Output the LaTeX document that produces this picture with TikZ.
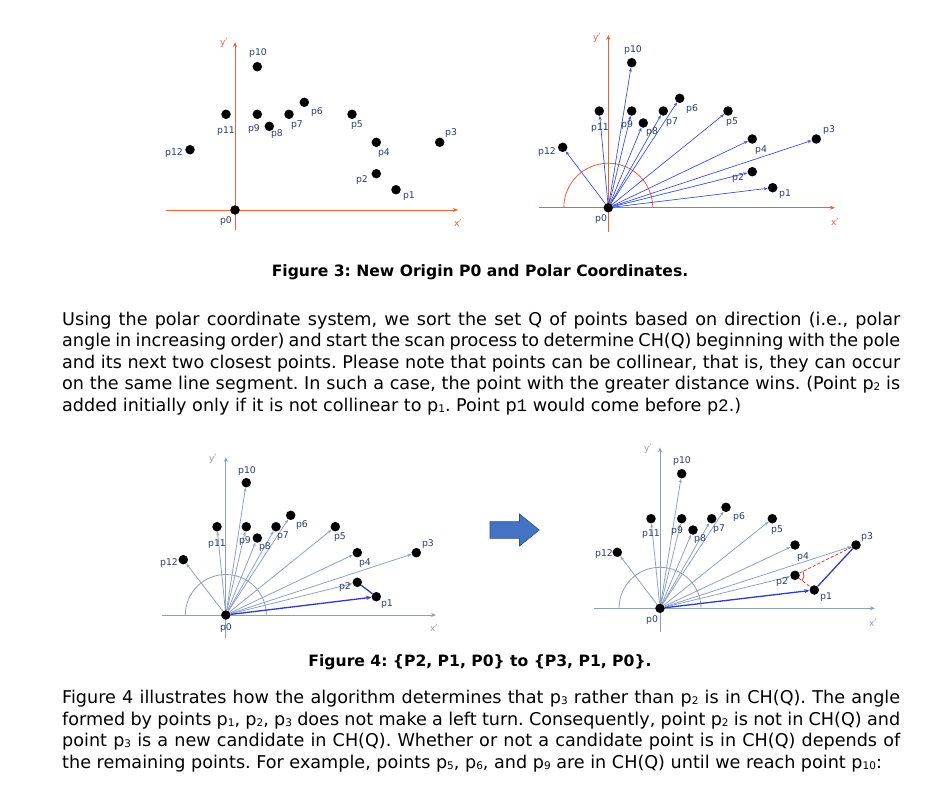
\documentclass[tikz,border=0pt]{standalone}
\usepackage{fontspec}
\setmainfont{DejaVu Sans}
\newfontfamily\lblfont{DejaVu Sans}
\newfontfamily\monofnt{Liberation Mono}
\usetikzlibrary{arrows.meta,calc}
\definecolor{axred}{HTML}{E8603C}
\definecolor{vecblue}{HTML}{3F51D8}
\definecolor{axgrey}{HTML}{8EA0B8}
\definecolor{vecgrey}{HTML}{8FA2C2}
\definecolor{boldblue}{HTML}{2E3BC8}
\definecolor{lblnavy}{HTML}{2E3D6E}
\definecolor{arrfill}{HTML}{4472C4}
\definecolor{arrdraw}{HTML}{2F528F}
\definecolor{dashred}{HTML}{E03030}
\newcommand\psub[1]{\raisebox{-1.2pt}{\fontsize{10.5}{10}\selectfont #1}}
\frenchspacing
\tikzset{
  dot/.style={circle, fill=black, inner sep=0pt, minimum size=9.5pt},
  lbl/.style={font=\lblfont\fontsize{9.3}{9}\selectfont, text=lblnavy, inner sep=0pt},
  axA/.style={draw=axred, line width=0.9pt, -{Stealth[length=5pt,width=4pt]}},
  axC/.style={draw=axgrey, line width=0.9pt, -{Stealth[length=5pt,width=4pt]}},
  axlblA/.style={font=\lblfont\fontsize{9}{9}\selectfont, text=axred, inner sep=0pt},
  axlblC/.style={font=\lblfont\fontsize{9}{9}\selectfont, text=axgrey, inner sep=0pt},
  vecB/.style={draw=vecblue, line width=0.7pt, -{Stealth[length=4pt,width=3pt]}},
  vecC/.style={draw=vecgrey, line width=0.8pt, -{Stealth[length=4pt,width=3pt]}},
  vecbold/.style={draw=boldblue, line width=1.3pt, -{Stealth[length=5pt,width=4pt]}},
  segbold/.style={draw=boldblue, line width=1.3pt},
  reddash/.style={draw=dashred, line width=0.8pt, densely dashed},
  bigarr/.style={draw=arrdraw, fill=arrfill, line width=0.6pt, line join=miter},
  txt/.style={anchor=base west, inner sep=0pt, font=\fontsize{17.6}{21.6}\selectfont},
  captxt/.style={anchor=base, inner sep=0pt, font=\bfseries\fontsize{15.6}{18}\selectfont},
}
\begin{document}
\begin{tikzpicture}[x=1pt, y=-1pt]
\useasboundingbox (0,0) rectangle (940,804);
\fill[white] (0,0) rectangle (940,804);

% ---------------- Figure A ----------------
\coordinate (aXL) at (166,210); \coordinate (aXR) at (458,210);
\coordinate (aYB) at (235,230); \coordinate (aYT) at (235,42);
\draw[axA] (aXL) -- (aXR);
\draw[axA] (aYB) -- (aYT);
\foreach \n/\x/\y in {0/235/210,1/396/189.7,2/376.3/173.7,3/439.7/142.3,4/376.3/142.3,5/352/114.3,6/304.3/102.3,7/289/114.3,8/269.3/126.3,9/257.3/114.3,10/257.3/66.7,11/226/114.3,12/190/149.7}
  \node[dot] (a\n) at (\x,\y) {};
\foreach \n/\x/\y in {0/226/221,1/409/196,2/362/180,3/451/133,4/384/153,5/357/125,6/317/112,7/297/125,8/277/134,9/254/129,10/258/53,11/226/131,12/174/153}
  \node[lbl] (la\n) at (\x,\y) {p\n};
\node[axlblA] (aylbl) at (224,43) {y\kern-0.5pt$'$};
\node[axlblA] (axlbl) at (458,223) {x\kern-0.5pt$'$};

% ---------------- Figure B ----------------
\coordinate (bXL) at (539,207.7); \coordinate (bXR) at (835,207.7);
\coordinate (bYB) at (608.3,232); \coordinate (bYT) at (608.3,35);
\draw[axA] (bXL) -- (bXR);
\draw[axA] (bYB) -- (bYT);
\foreach \n/\x/\y in {0/608.3/207.7,1/772.7/187.7,2/752.3/171.7,3/816.3/139,4/752.3/139,5/728/111,6/679.7/98.3,7/663.3/111,8/643.3/123,9/631.7/111,10/631.7/62.7,11/599.3/111,12/562.7/147.3}
  \node[dot] (b\n) at (\x,\y) {};
\draw[axred, line width=0.8pt] ($(b0)+(44.5,0)$) arc[start angle=0, end angle=-180, radius=44.5];
\foreach \n in {1,...,12} \draw[vecB] (b0) -- (b\n);
\foreach \n/\x/\y in {0/601/219,1/785/194,2/738/178,3/829/130,4/761/150,5/732/122,6/692/109,7/672/122,8/652/132,9/627/125,10/633/50,11/600/128,12/547/152}
  \node[lbl] (lb\n) at (\x,\y) {p\n};
\node[axlblA] (bylbl) at (597,38) {y\kern-0.5pt$'$};
\node[axlblA] (bxlbl) at (835,222) {x\kern-0.5pt$'$};

% ---------------- Figure C ----------------
\coordinate (cXL) at (161.7,615); \coordinate (cXR) at (436,615);
\coordinate (cYB) at (225.8,638); \coordinate (cYT) at (225.8,457);
\draw[axC] (cXL) -- (cXR);
\draw[axC] (cYB) -- (cYT);
\foreach \n/\x/\y in {0/225.8/615,1/376.3/596.7,2/357.3/582.3,3/416.3/552.7,4/357.3/552.7,5/335.3/526.7,6/290.7/515.3,7/276/526.7,8/257.3/538,9/246.3/526.7,10/246.3/482.7,11/217/526.7,12/183.3/559.7}
  \node[dot] (c\n) at (\x,\y) {};
\draw[axgrey, line width=0.8pt] ($(c0)+(40.5,0)$) arc[start angle=0, end angle=-180, radius=40.5];
\foreach \n in {2,...,12} \draw[vecC] (c0) -- (c\n);
\draw[vecbold] (c0) -- (c1);
\draw[segbold] (c2) -- (c1);
\foreach \n/\x/\y in {0/226/628,1/387/604,2/345/587,3/428/544,4/365/563,5/340/537,6/302/525,7/283/536,8/265/547,9/245/541,10/247/471,11/217/544,12/169/563}
  \node[lbl] (lc\n) at (\x,\y) {p\n};
\node[axlblC] (cylbl) at (213,459) {y\kern-0.5pt$'$};
\node[axlblC] (cxlbl) at (434,628) {x\kern-0.5pt$'$};

% ---------------- big arrow ----------------
\draw[bigarr] (490,521.7) -- (519.5,521.7) -- (519.5,514) -- (539.3,530) -- (519.5,546) -- (519.5,538.3) -- (490,538.3) -- cycle;

% ---------------- Figure D ----------------
\coordinate (dXL) at (594,608.3); \coordinate (dXR) at (875,608.3);
\coordinate (dYB) at (660,631.7); \coordinate (dYT) at (660,447.3);
\draw[axC] (dXL) -- (dXR);
\draw[axC] (dYB) -- (dYT);
\foreach \n/\x/\y in {0/660/608.3,1/814.3/590,2/795/575.3,3/856/545,4/795/545,5/772.3/518.7,6/726/507.3,7/711.7/518.7,8/693/530,9/681.7/518.7,10/681.7/473.7,11/651/518.7,12/617.3/552.3}
  \node[dot] (d\n) at (\x,\y) {};
\draw[axgrey, line width=0.8pt] ($(d0)+(41,0)$) arc[start angle=0, end angle=-180, radius=41];
\foreach \n in {2,...,12} \draw[vecC] (d0) -- (d\n);
\draw[reddash] (d2) -- (d3);
\draw[reddash] (d2) -- (d1);
\draw[dashred, line width=0.8pt] ($(d2)+(-26.4:9)$) arc[start angle=-26.4, end angle=37.3, radius=9];
\draw[vecbold] (d0) -- (d1);
\draw[segbold] (d1) -- (d3);
\foreach \n/\x/\y in {0/652/620,1/826/597,2/782/582,3/867/537,4/803/557,5/777/530,6/739/517,7/719/529,8/700/539,9/677/531,10/682/461,11/651/534,12/604/554}
  \node[lbl] (ld\n) at (\x,\y) {p\n};
\node[axlblC] (dylbl) at (648,449) {y\kern-0.5pt$'$};
\node[axlblC] (dxlbl) at (873,623) {x\kern-0.5pt$'$};

% ---------------- captions and text ----------------
\node[captxt] (cap3) at (480,276) {Figure 3: New Origin P0 and Polar Coordinates.};
\node[txt] (t1) at (62,325) {\makebox[838pt][s]{Using the polar coordinate system, we sort the set Q of points based on direction (i.e., polar}};
\node[txt] (t2) at (62,346.5) {\makebox[838pt][s]{angle in increasing order) and start the scan process to determine CH(Q) beginning with the pole}};
\node[txt] (t3) at (62,368) {\makebox[838pt][s]{and its next two closest points. Please note that points can be collinear, that is, they can occur}};
\node[txt] (t4) at (62,389.5) {\makebox[838pt][s]{on the same line segment. In such a case, the point with the greater distance wins. (Point p\psub{2} is}};
\node[txt] (t5) at (62,411) {added initially only if it is not collinear to p\psub{1}. Point p{\monofnt 1} would come before p{\monofnt 2}.)};

\node[captxt] (cap4) at (480,666) {Figure 4: \{P2, P1, P0\} to \{P3, P1, P0\}.};
\node[txt] (u1) at (62,703) {\makebox[838pt][s]{Figure 4 illustrates how the algorithm determines that p\psub{3} rather than p\psub{2} is in CH(Q). The angle}};
\node[txt] (u2) at (62,725) {\makebox[838pt][s]{formed by points p\psub{1}, p\psub{2}, p\psub{3} does not make a left turn. Consequently, point p\psub{2} is not in CH(Q) and}};
\node[txt] (u3) at (62,746.5) {\makebox[838pt][s]{point p\psub{3} is a new candidate in CH(Q). Whether or not a candidate point is in CH(Q) depends of}};
\node[txt] (u4) at (62,768) {the remaining points. For example, points p\psub{5}, p\psub{6}, and p\psub{9} are in CH(Q) until we reach point p\psub{10}:};
\end{tikzpicture}
\end{document}
